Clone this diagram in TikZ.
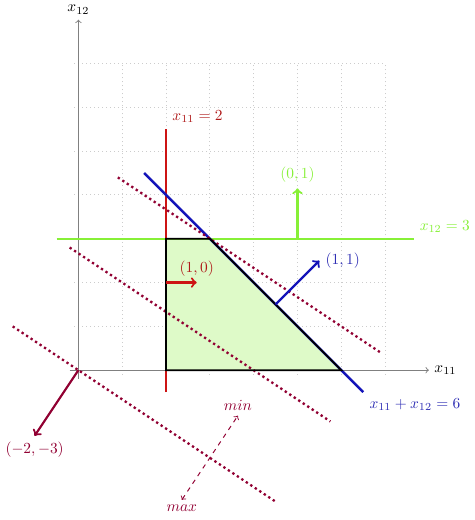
\documentclass[tikz,border=0pt]{standalone}
\usetikzlibrary{arrows}
\definecolor{cred}{RGB}{205,20,20}
\definecolor{credtxt}{RGB}{175,25,25}
\definecolor{cgreen}{RGB}{135,240,55}
\definecolor{cblue}{RGB}{20,20,185}
\definecolor{cbluetxt}{RGB}{45,45,180}
\definecolor{cpurple}{RGB}{145,0,50}
\definecolor{cfill}{RGB}{222,250,200}
\tikzset{
  axisline/.style={gray, ->, line width=0.6pt},
  gridline/.style={gray!40, dotted, line width=0.6pt},
  levelline/.style={cpurple, dotted, line width=1.5pt},
  vecarrow/.style={->, line width=1.4pt},
}
\begin{document}
\begin{tikzpicture}
\useasboundingbox (-1.79,-3.42) rectangle (9.03,8.45);
% coordinates
\coordinate (O) at (0,0);
\coordinate (xs) at (-0.2,0);
\coordinate (xe) at (8,0);
\coordinate (ys) at (0,-0.2);
\coordinate (ye) at (0,8);
\coordinate (rs) at (2,-0.5);
\coordinate (re) at (2,5.5);
\coordinate (gs) at (-0.5,3);
\coordinate (ge) at (7.65,3);
\coordinate (bs) at (1.5,4.5);
\coordinate (be) at (6.5,-0.5);
\coordinate (p1) at (2,0);
\coordinate (p2) at (2,3);
\coordinate (p3) at (3,3);
\coordinate (p4) at (6,0);
\coordinate (l1s) at (0.9,4.4);
\coordinate (l1e) at (6.9,0.4);
\coordinate (l2s) at (-0.2,2.8);
\coordinate (l2e) at (5.75,-1.17);
\coordinate (l3s) at (-1.5,1);
\coordinate (l3e) at (4.5,-3);
\coordinate (ra) at (2,2);
\coordinate (rb) at (2.7,2);
\coordinate (ga) at (5,3);
\coordinate (gb) at (5,4.15);
\coordinate (ba) at (4.5,1.5);
\coordinate (bb) at (5.5,2.5);
\coordinate (pb) at (-1,-1.5);
\coordinate (mx) at (2.36,-2.96);
\coordinate (mn) at (3.64,-1.04);
% grid
\draw[gridline] (-0.1,-0.1) grid (7,7);
% axes
\draw[axisline] (xs) -- (xe) node[right, text=black] (lx) {$x_{11}$};
\draw[axisline] (ys) -- (ye) node[above, text=black] (ly) {$x_{12}$};
% feasible region fill
\fill[cfill] (p1) -- (p2) -- (p3) -- (p4) -- cycle;
% constraint lines
\draw[cred, line width=1.7pt] (rs) -- (re) node[above right, text=credtxt] (lr) {$x_{11}=2$};
\draw[cgreen, line width=1.4pt] (gs) -- (ge) node[above right, text=cgreen] (lg) {$x_{12}=3$};
\draw[cblue, line width=1.6pt] (bs) -- (be) node[below right, text=cbluetxt] (lb) {$x_{11}+x_{12}=6$};
% level lines
\draw[levelline] (l1s) -- (l1e);
\draw[levelline] (l2s) -- (l2e);
\draw[levelline] (l3s) -- (l3e);
% region border
\draw[black, line width=1.2pt] (p1) -- (p2) -- (p3) -- (p4) -- cycle;
% vectors
\draw[vecarrow, cred] (ra) -- (rb) node[above, text=credtxt] (vr) {$(1,0)$};
\draw[vecarrow, cgreen] (ga) -- (gb) node[above, text=cgreen] (vg) {$(0,1)$};
\draw[vecarrow, cblue] (ba) -- (bb) node[right, text=cbluetxt] (vb) {$(1,1)$};
\draw[vecarrow, cpurple] (O) -- (pb) node[below, text=cpurple] (vp) {$(-2,-3)$};
% min / max
\draw[<->, dashed, cpurple, line width=0.6pt] (mx) -- (mn);
\node[above, text=cpurple] (tmin) at (mn) {$min$};
\node[below, text=cpurple] (tmax) at (mx) {$max$};
\end{tikzpicture}
\end{document}
